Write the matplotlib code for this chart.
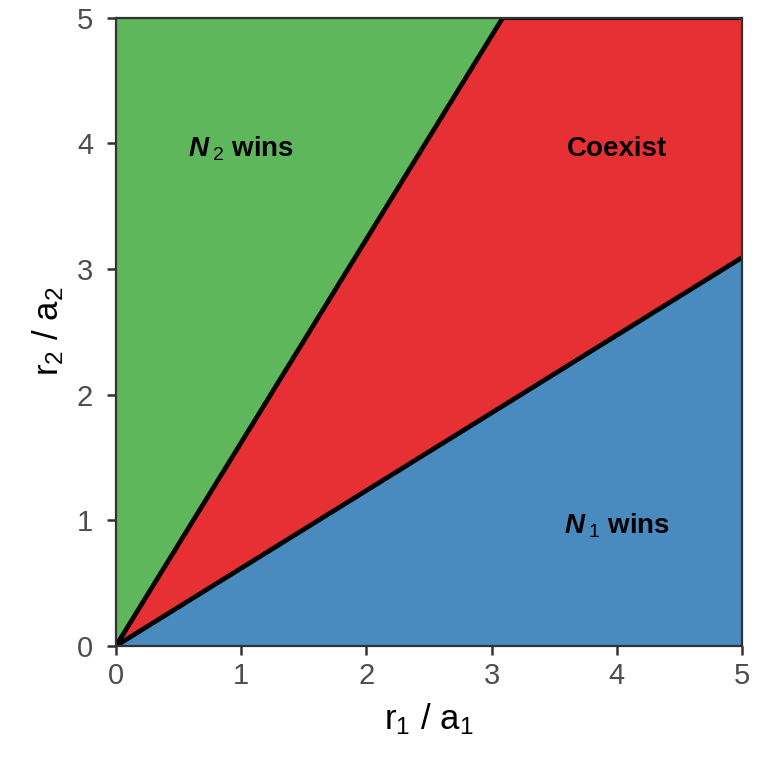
import numpy as np
import matplotlib
matplotlib.use("Agg")
import matplotlib.pyplot as plt

# boundary slopes through the origin
slope_upper = 1.618
slope_lower = 0.618
lim = 5
ticks = [0, 1, 2, 3, 4, 5]

labels = ["$\\mathbfit{N}\\,_{2}$ wins", "Coexist", "$\\mathbfit{N}\\,_{1}$ wins"]
label_x = [1, 4, 4]
label_y = [4, 4, 1]

plt.rcParams["font.family"] = ["Liberation Sans", "DejaVu Sans"]
plt.rcParams["mathtext.fontset"] = "custom"
plt.rcParams["mathtext.rm"] = "Liberation Sans"
plt.rcParams["mathtext.it"] = "Liberation Sans:italic"
plt.rcParams["mathtext.bf"] = "Liberation Sans:bold"
plt.rcParams["mathtext.bfit"] = "Liberation Sans:italic:bold"

green = "#5FB75C"
red = "#E63033"
blue = "#4A8BBF"

fig = plt.figure(figsize=(7.68, 7.68), dpi=100)
ax = fig.add_axes([0.151, 0.159, 0.815, 0.818])

x = np.linspace(0, lim, 400)
y_up = np.minimum(slope_upper * x, lim)
y_lo = slope_lower * x

ax.fill_between(x, y_up, lim, color=green, lw=0)
ax.fill_between(x, y_lo, y_up, color=red, lw=0)
ax.fill_between(x, 0, y_lo, color=blue, lw=0)
ax.plot(x, y_up, color="black", lw=3.4, solid_capstyle="butt")
ax.plot(x, y_lo, color="black", lw=3.4, solid_capstyle="butt")

for t, tx, ty in zip(labels, label_x, label_y):
    ax.annotate(t, (tx, ty), xytext=(0, -4), textcoords="offset points",
                ha="center", va="center", fontsize=20, fontweight="bold")

ax.set_xlim(0, lim)
ax.set_ylim(0, lim)
ax.set_xticks(ticks)
ax.set_yticks(ticks)
ax.tick_params(colors="#333333", labelcolor="#4D4D4D", labelsize=21,
               length=6.5, width=1.8)
ax.tick_params(axis="x", pad=5)
ax.tick_params(axis="y", pad=10)
for s in ax.spines.values():
    s.set_color("#333333")
    s.set_linewidth(1.6)
    s.set_zorder(5)

ax.set_xlabel("r$_1$ / a$_1$", fontsize=25, labelpad=8)
ax.set_ylabel("r$_2$ / a$_2$", fontsize=25, labelpad=8)

fig.savefig("out.png", dpi=100)
